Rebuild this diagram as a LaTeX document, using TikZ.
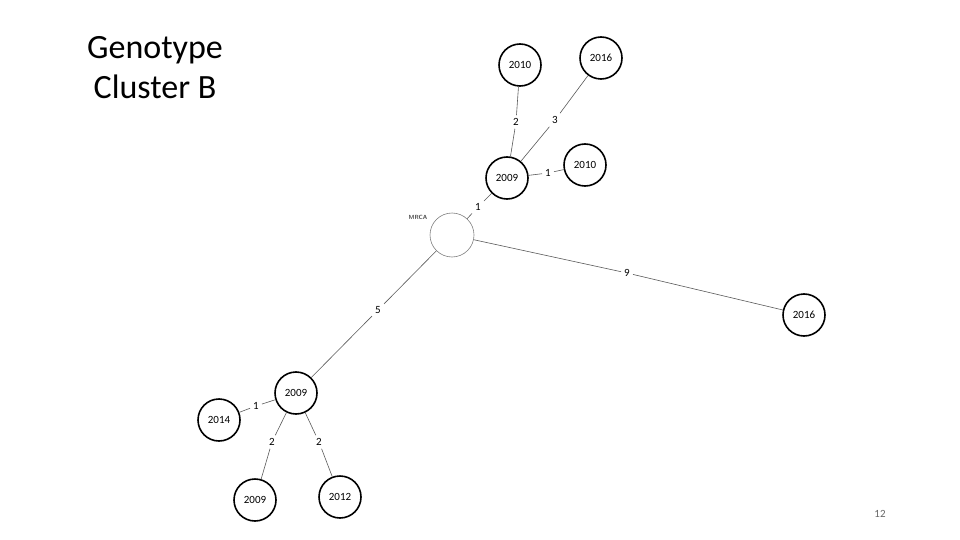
\documentclass[tikz,border=0pt]{standalone}
\usepackage{fontspec}
\setmainfont{Carlito}
\begin{document}
\begin{tikzpicture}[x=1pt,y=-1pt,
  yr/.style={circle,draw=black,line width=1.6pt,minimum size=42pt,inner sep=0pt,font=\fontsize{11}{12}\selectfont},
  lbl/.style={inner sep=3pt,font=\fontsize{11}{12}\selectfont},
  edge/.style={draw=black!65,line width=0.6pt}]
\useasboundingbox (0,0) rectangle (960,540);
\node[font=\fontsize{34}{40}\selectfont,align=center] (title) at (155,68) {Genotype\\Cluster B};
\node[yr] (a) at (520,65) {2010};
\node[yr] (b) at (601,58) {2016};
\node[yr] (c) at (507,178) {2009};
\node[yr] (d) at (585,165) {2010};
\node[circle,draw=black!50,line width=0.6pt,minimum size=44pt] (m) at (452,235) {};
\node[font=\fontsize{6}{7}\selectfont\sffamily\bfseries,text=black!70] (ml) at (418,217) {MRCA};
\node[yr] (e) at (804,315) {2016};
\node[yr] (f) at (296,393) {2009};
\node[yr] (g) at (219,420) {2014};
\node[yr] (h) at (255,500) {2009};
\node[yr] (i) at (340,497) {2012};
\node[lbl] (l1) at (516,122) {2};
\node[lbl] (l2) at (555,120) {3};
\node[lbl] (l3) at (548,173) {1};
\node[lbl] (l4) at (478,207) {1};
\node[lbl] (l5) at (627,273) {9};
\node[lbl] (l6) at (378,310) {5};
\node[lbl] (l7) at (256,406) {1};
\node[lbl] (l8) at (272,442) {2};
\node[lbl] (l9) at (319,442) {2};
\path[edge] (a) -- (l1) -- (c);
\path[edge] (b) -- (l2) -- (c);
\path[edge] (d) -- (l3) -- (c);
\path[edge] (m) -- (l4) -- (c);
\path[edge] (m) -- (l5) -- (e);
\path[edge] (m) -- (l6) -- (f);
\path[edge] (f) -- (l7) -- (g);
\path[edge] (f) -- (l8) -- (h);
\path[edge] (f) -- (l9) -- (i);
\node[font=\fontsize{11}{12}\selectfont,text=black!60] (pg) at (880,514) {12};
\end{tikzpicture}
\end{document}
